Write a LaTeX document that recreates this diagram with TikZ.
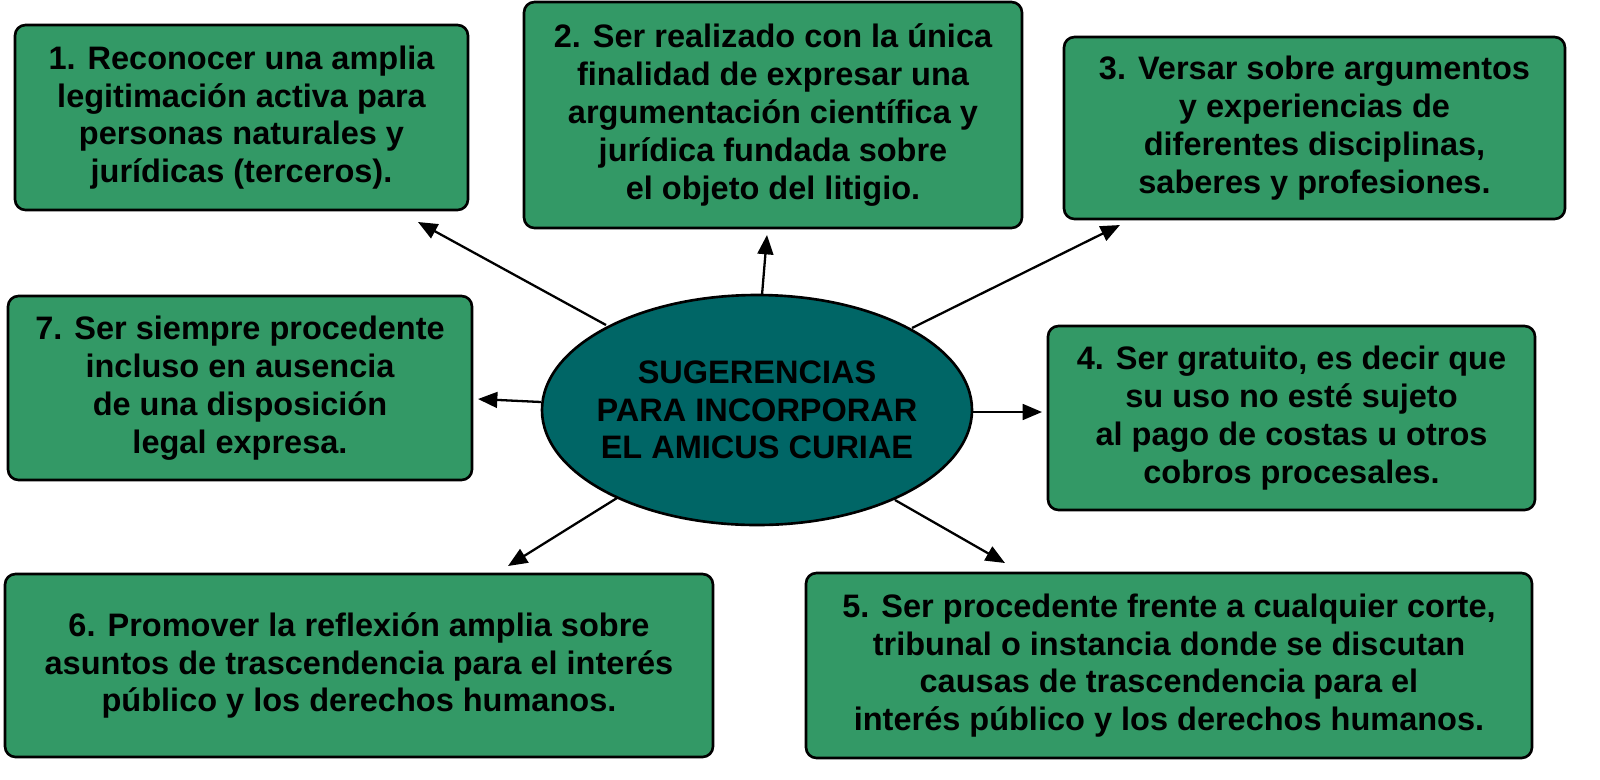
\documentclass[tikz,border=0pt]{standalone}
\usepackage{fontspec}
\setmainfont{Liberation Sans}
\usetikzlibrary{arrows.meta}
\definecolor{boxgreen}{HTML}{339966}
\definecolor{teal2}{HTML}{006666}
\begin{document}
\begin{tikzpicture}[x=0.02cm,y=-0.02cm,
  box/.style={draw=black,line width=1.5pt,fill=boxgreen,rounded corners=6pt,align=center,font=\fontsize{18.5}{21.5}\selectfont\bfseries},
  arr/.style={-{Triangle[length=11pt,width=9pt]},line width=1.3pt}]
\node[box,minimum width=453*0.02cm,minimum height=185*0.02cm] (b1) at (241.5,117.5) {1. Reconocer una amplia\\legitimación activa para\\personas naturales y\\jurídicas (terceros).};
\node[box,minimum width=498*0.02cm,minimum height=226*0.02cm] (b2) at (773,115) {2. Ser realizado con la única\\finalidad de expresar una\\argumentación científica y\\jurídica fundada sobre\\el objeto del litigio.};
\node[box,minimum width=501*0.02cm,minimum height=182*0.02cm] (b3) at (1314.5,128) {3. Versar sobre argumentos\\y experiencias de\\diferentes disciplinas,\\saberes y profesiones.};
\node[box,minimum width=464*0.02cm,minimum height=184*0.02cm] (b7) at (240,388) {7. Ser siempre procedente\\incluso en ausencia\\de una disposición\\legal expresa.};
\node[box,minimum width=487*0.02cm,minimum height=184*0.02cm] (b4) at (1291.5,418) {4. Ser gratuito, es decir que\\su uso no esté sujeto\\al pago de costas u otros\\cobros procesales.};
\node[box,minimum width=708*0.02cm,minimum height=183*0.02cm] (b6) at (359,665.5) {6. Promover la reflexión amplia sobre\\asuntos de trascendencia para el interés\\público y los derechos humanos.};
\node[box,minimum width=726*0.02cm,minimum height=185*0.02cm] (b5) at (1169,665.5) {5. Ser procedente frente a cualquier corte,\\tribunal o instancia donde se discutan\\causas de trascendencia para el\\interés público y los derechos humanos.};
\draw[line width=1.5pt,fill=teal2] (757,410) ellipse [x radius=215*0.02cm, y radius=115*0.02cm];
\node[align=center,font=\fontsize{18.5}{21.5}\selectfont\bfseries] (c) at (757,410) {SUGERENCIAS\\PARA INCORPORAR\\EL AMICUS CURIAE};
\coordinate (s1) at (606,325); \coordinate (e1) at (418,222);
\coordinate (s2) at (762,295); \coordinate (e2) at (767,235);
\coordinate (s3) at (912,328); \coordinate (e3) at (1120,225);
\coordinate (s7) at (541,402); \coordinate (e7) at (478,399);
\coordinate (s4) at (972,412); \coordinate (e4) at (1042,412);
\coordinate (s6) at (617,498); \coordinate (e6) at (508,566);
\coordinate (s5) at (895,500); \coordinate (e5) at (1005,563);
\foreach \i in {1,2,3,7,4,6,5} \draw[arr] (s\i) -- (e\i);
\pgfresetboundingbox
\useasboundingbox (0,0) rectangle (1600,779);
\end{tikzpicture}
\end{document}
